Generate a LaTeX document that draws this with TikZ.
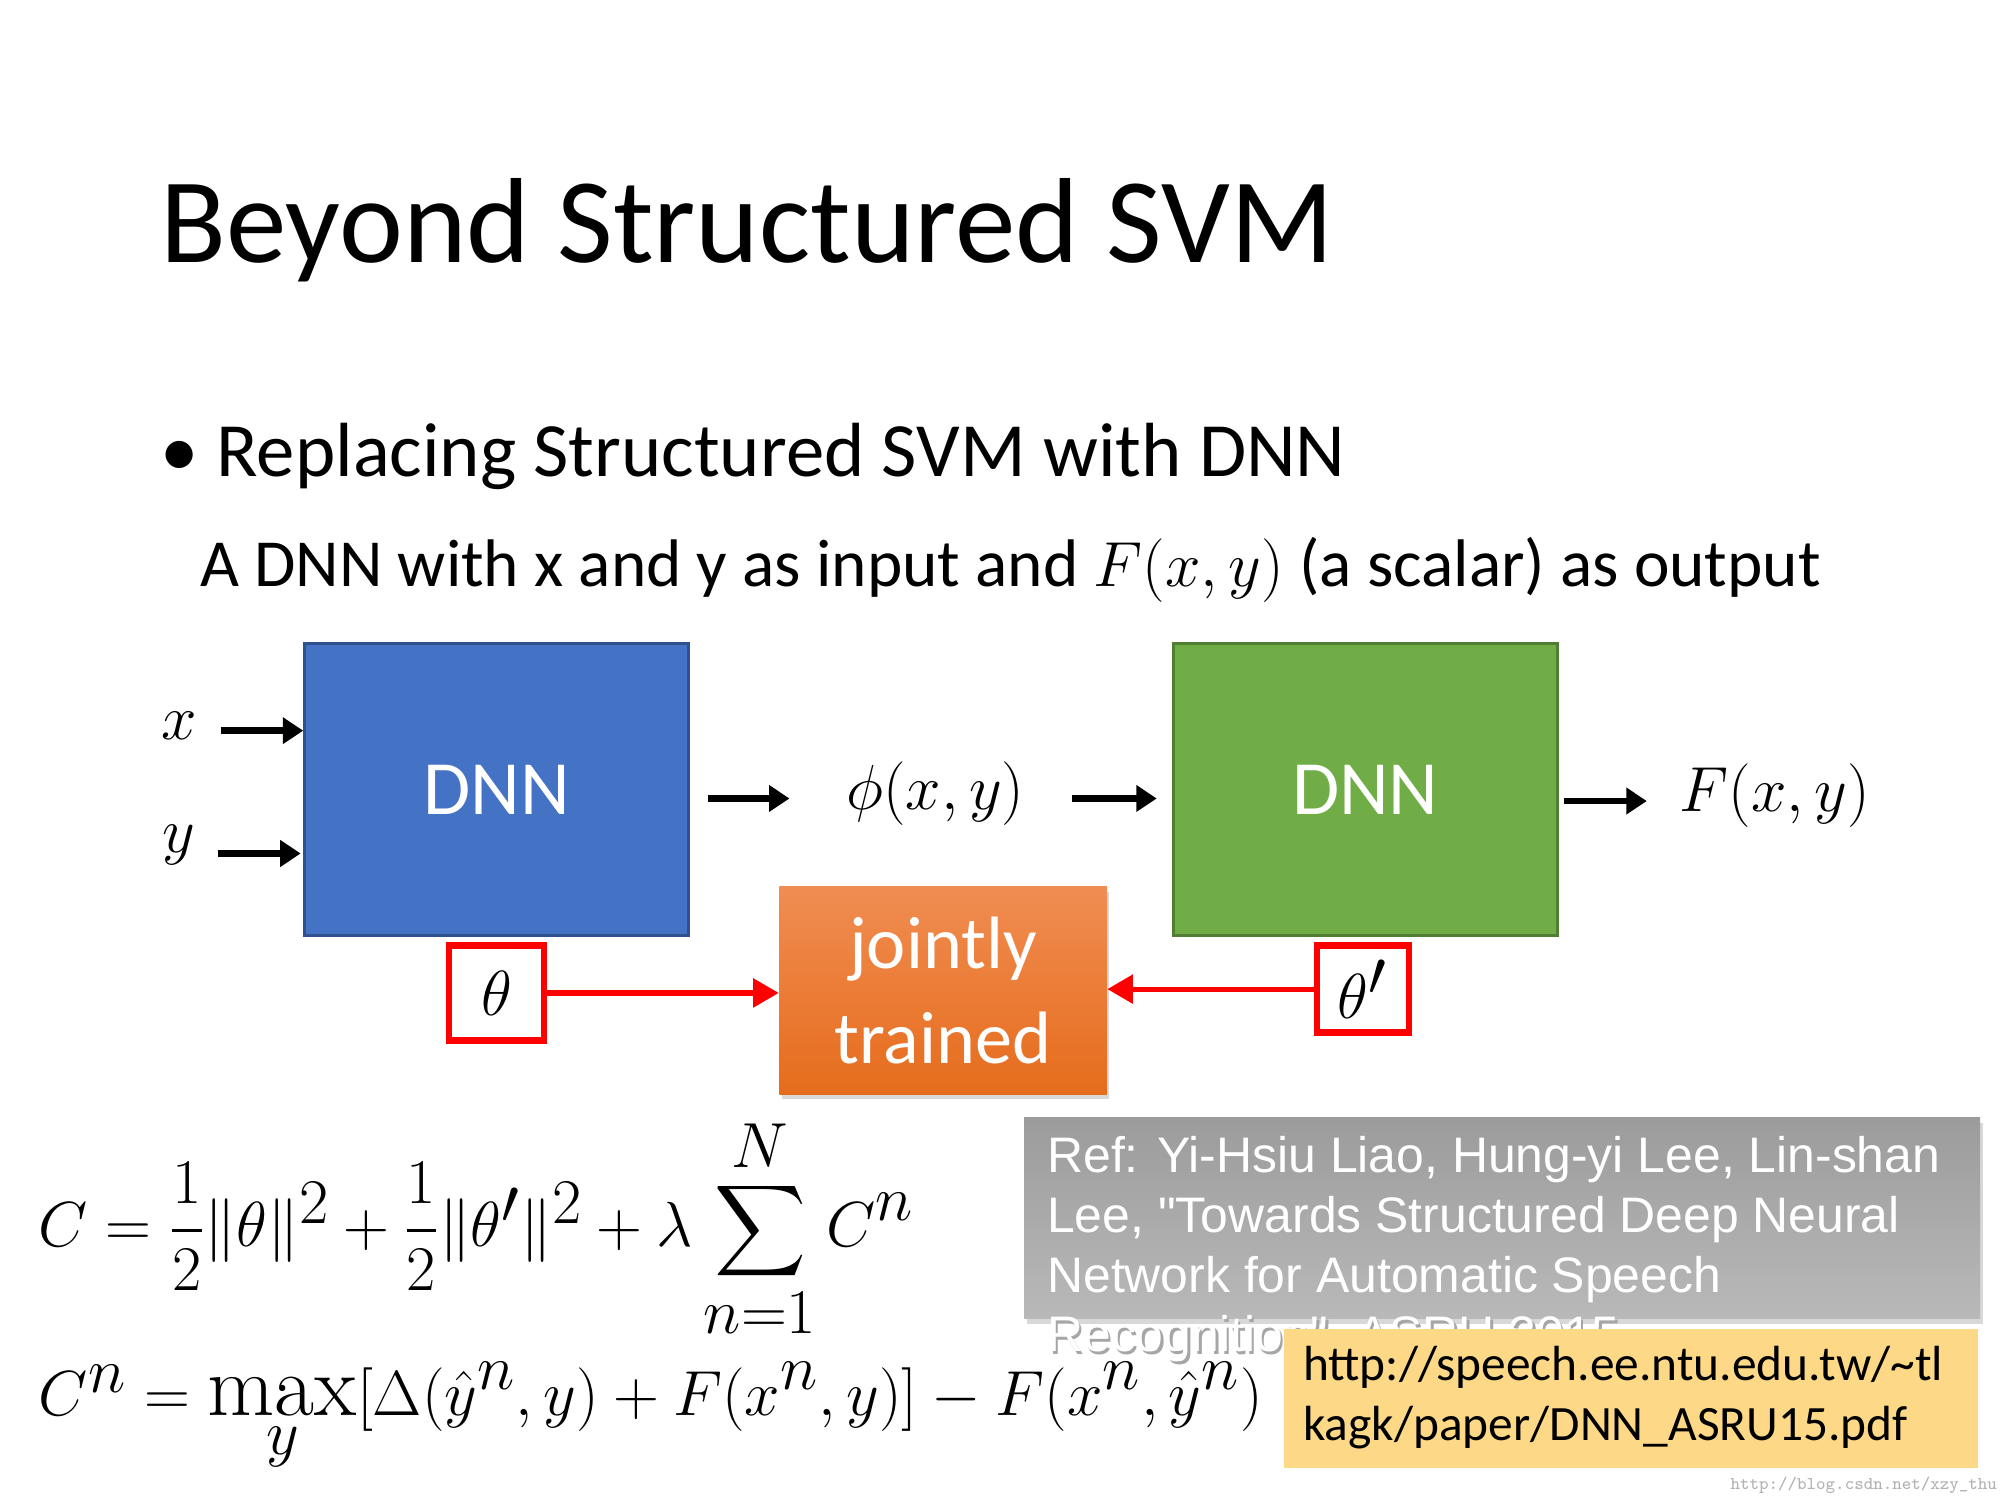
\documentclass[tikz,border=0pt]{standalone}
\usepackage{amsmath}
\usepackage{fontspec}
\setmainfont{Carlito}
\newfontfamily\arialf{Liberation Sans}
\newfontfamily\lmrom{Latin Modern Roman}
\usetikzlibrary{arrows.meta,shadows}
\definecolor{dblue}{HTML}{4472C4}
\definecolor{dblueb}{HTML}{2F528F}
\definecolor{dgreen}{HTML}{70AD47}
\definecolor{dgreenb}{HTML}{507E32}
\definecolor{otop}{HTML}{F08D52}
\definecolor{obot}{HTML}{E66C1C}
\definecolor{ybox}{HTML}{FDD886}
\definecolor{redb}{HTML}{FF0000}
\tikzset{
 blk/.style={line width=2.5pt,-{Triangle[length=8pt,width=10pt]}},
 rarr/.style={line width=2pt,draw=redb,-{Triangle[length=10pt,width=11pt]}},
 dnnbox/.style={minimum width=150pt,minimum height=114pt,line width=1pt,text=white,font=\fontsize{30}{36}\selectfont,inner sep=0},
 thbox/.style={draw=redb,line width=2.5pt,inner sep=0,font=\fontsize{34}{38}\selectfont},
 mathtxt/.style={font=\fontsize{38}{42}\selectfont,inner sep=0},
 eqtxt/.style={font=\fontsize{34}{38}\selectfont,inner sep=0}
}
\begin{document}
\begin{tikzpicture}[x=0.5pt,y=-0.5pt]
\useasboundingbox[fill=white] (0,0) rectangle (1563,1172);
\node[anchor=base west,inner sep=0,font=\fontsize{47.3}{54}\selectfont] (title) at (125,205) {Beyond Structured SVM};
\node[anchor=base west,inner sep=0,font=\fontsize{30}{36}\selectfont] (bul) at (125,372) {\textbullet\hspace{7pt}Replacing Structured SVM with DNN};
\node[anchor=base west,inner sep=0,font=\fontsize{26.3}{32}\selectfont] (sub) at (156,458) {A DNN with x and y as input and {\fontsize{32}{34}\selectfont$F(x,y)$} (a scalar) as output};
% boxes
\node[dnnbox,fill=dblue,draw=dblueb] (d1) at (388,617) {DNN};
\node[dnnbox,fill=dgreen,draw=dgreenb] (d2) at (1067,617) {DNN};
\node[minimum width=128pt,minimum height=81pt,inner sep=0,top color=otop,bottom color=obot,drop shadow={opacity=0.3,shadow xshift=1pt,shadow yshift=-2pt},text=white,align=center,font=\fontsize{29}{37}\selectfont] (jt) at (737,774) {jointly\\trained};
\node[thbox,minimum width=37pt,minimum height=37pt] (th) at (388,776) {$\theta$};
\node[thbox,minimum width=36pt,minimum height=34pt] (thp) at (1065,773) {$\theta'$};
\draw[rarr] (th.east) -- (jt.west|-th.east);
\draw[rarr] (thp.west) -- (jt.east|-thp.west);
% inputs
\node[mathtxt] (x) at (140,567) {$x$};
\node[mathtxt] (y) at (140,660) {$y$};
\coordinate (xa) at (173,571); \coordinate (xb) at (237,571);
\coordinate (ya) at (170,667); \coordinate (yb) at (235,667);
\draw[blk] (xa) -- (xb);
\draw[blk] (ya) -- (yb);
\node[mathtxt] (phi) at (731,620) {$\phi(x,y)$};
\node[mathtxt] (F) at (1387,622) {$F(x,y)$};
\coordinate (a1) at (553,624); \coordinate (a2) at (617,624);
\coordinate (b1) at (838,624); \coordinate (b2) at (904,624);
\coordinate (c1) at (1222,626); \coordinate (c2) at (1287,626);
\draw[blk] (a1) -- (a2);
\draw[blk] (b1) -- (b2);
\draw[blk] (c1) -- (c2);
% equations
\node[eqtxt,anchor=west] (eq1) at (30,960) {$C=\dfrac{1}{2}\lVert\theta\rVert^2+\dfrac{1}{2}\lVert\theta'\rVert^2+\lambda\displaystyle\sum_{n=1}^{N}C^n$};
\node[eqtxt,anchor=west] (eq2) at (30,1108) {$C^n=\displaystyle\mathop{\hbox{\lmrom max}}_{y}[\Delta(\hat{y}^n,y)+F(x^n,y)]-F(x^n,\hat{y}^n)$};
% reference box
\node[anchor=north west,minimum width=373.5pt,minimum height=78.5pt,top color=gray!78,bottom color=gray!55,drop shadow={opacity=0.3,shadow xshift=1pt,shadow yshift=-2pt},inner sep=0] (refbox) at (800,873) {};
\node[anchor=north west,text=gray!70,align=left,inner sep=0,font=\arialf\fontsize{19.5}{23.3}\selectfont] (refsh) at (820,890) {\phantom{Ref: Yi-Hsiu Liao, Hung-yi Lee, Lin-shan}\\\phantom{Lee}\\\phantom{N}\\Recognition", ASRU 2015};
\node[anchor=north west,text=white,align=left,inner sep=0,font=\arialf\fontsize{19.5}{23.3}\selectfont] (reftxt) at (818,888) {Ref: Yi-Hsiu Liao, Hung-yi Lee, Lin-shan\\Lee, "Towards Structured Deep Neural\\Network for Automatic Speech\\Recognition", ASRU 2015};
\node[anchor=north west,minimum width=271pt,minimum height=54.5pt,fill=ybox,inner sep=0] (ub) at (1003,1038) {};
\node[anchor=west,align=left,inner sep=0,font=\fontsize{19.3}{23.5}\selectfont] (url) at (1018,1092) {http://speech.ee.ntu.edu.tw/\char`\~tl\\kagk/paper/DNN\_ASRU15.pdf};
\node[anchor=south east,inner sep=1pt,text=gray!60,font=\ttfamily\fontsize{7}{8}\selectfont] (wm) at (1563,1170) {http://blog.csdn.net/xzy\_thu};
\end{tikzpicture}
\end{document}
